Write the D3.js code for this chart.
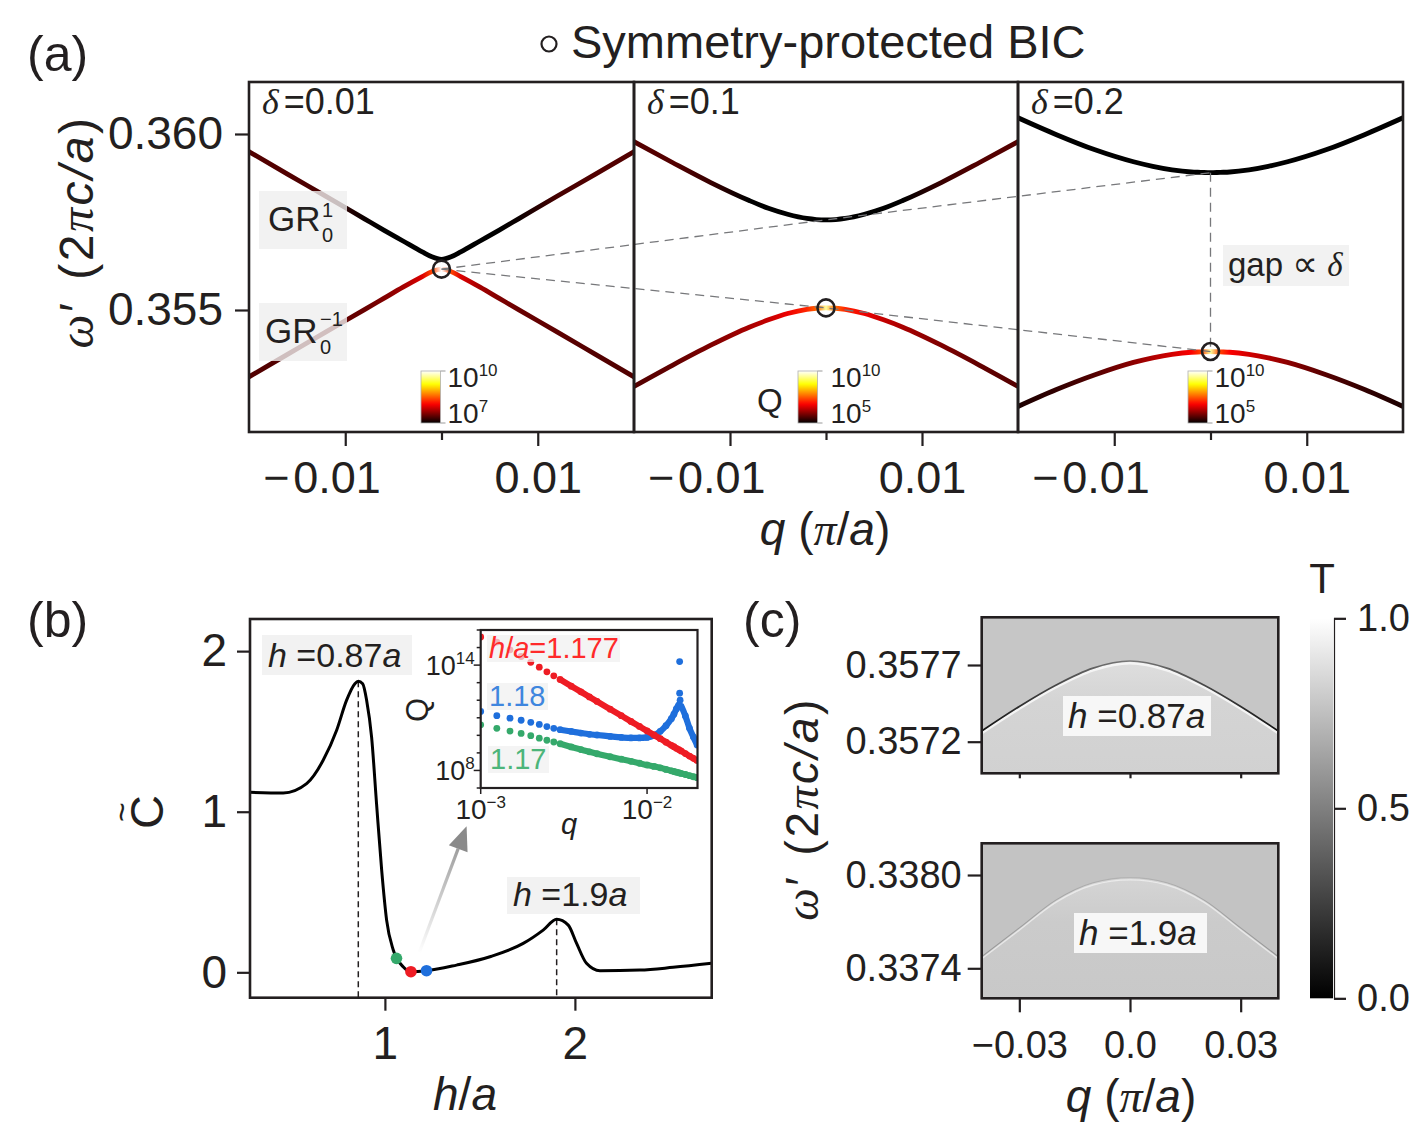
<!DOCTYPE html>
<html><head><meta charset="utf-8">
<script src="https://cdn.jsdelivr.net/npm/d3@7/dist/d3.min.js"></script>
<style>html,body{margin:0;padding:0;background:#fff}svg{display:block}</style>
</head><body>
<script>
// ================= DATA =================
// (a) band dispersion: q (pi/a) and omega' (2pi c/a)
const qBand = [-0.02,-0.016,-0.012,-0.008,-0.006,-0.004,-0.002,-0.001,0,0.001,0.002,0.004,0.006,0.008,0.012,0.016,0.02];
const deltaLabels = ["0.01","0.1","0.2"];
const upperD001 = [0.35950,0.35886,0.35823,0.35759,0.35727,0.35696,0.35665,0.35651,0.35644,0.35651,0.35665,0.35696,0.35727,0.35759,0.35823,0.35886,0.35950];
const lowerD001 = [0.35310,0.35374,0.35438,0.35501,0.35533,0.35565,0.35595,0.35609,0.35616,0.35609,0.35595,0.35565,0.35533,0.35501,0.35438,0.35374,0.35310];
const upperD01  = [0.35978,0.35919,0.35862,0.35811,0.35789,0.35772,0.35760,0.35757,0.35756,0.35757,0.35760,0.35772,0.35789,0.35811,0.35862,0.35919,0.35978];
const lowerD01  = [0.35283,0.35343,0.35400,0.35451,0.35472,0.35490,0.35502,0.35505,0.35506,0.35505,0.35502,0.35490,0.35472,0.35451,0.35400,0.35343,0.35283];
const upperD02  = [0.36046,0.35998,0.35955,0.35921,0.35908,0.35898,0.35892,0.35891,0.35890,0.35891,0.35892,0.35898,0.35908,0.35921,0.35955,0.35998,0.36046];
const lowerD02  = [0.35226,0.35274,0.35316,0.35351,0.35364,0.35374,0.35380,0.35381,0.35382,0.35381,0.35380,0.35374,0.35364,0.35351,0.35316,0.35274,0.35226];
// log10(Q) along each band
const logQUpperD001 = [7.35,7.35,7.3,7.05,7.0,7.0,7.0,7.0,7.0,7.0,7.0,7.0,7.0,7.05,7.3,7.35,7.35];
const logQLowerD001 = [7.35,7.35,7.4,7.45,7.55,7.7,7.95,8.4,10,8.4,7.95,7.7,7.55,7.45,7.4,7.35,7.35];
const logQUpperD01  = [5.6,5.6,5.4,5.0,5.0,5.0,5.0,5.0,5.0,5.0,5.0,5.0,5.0,5.0,5.4,5.6,5.6];
const logQLowerD01  = [5.6,5.7,5.9,6.2,6.4,6.7,7.1,7.6,9.5,7.6,7.1,6.7,6.4,6.2,5.9,5.7,5.6];
const logQUpperD02  = [5.0,5.0,5.0,5.0,5.0,5.0,5.0,5.0,5.0,5.0,5.0,5.0,5.0,5.0,5.0,5.0,5.0];
const logQLowerD02  = [5.2,5.35,5.6,6.0,6.25,6.5,6.8,7.3,9.5,7.3,6.8,6.5,6.25,6.0,5.6,5.35,5.2];
const colorbarRanges = [[7,10],[5,10],[5,10]];
const aXTicks = [-0.01,0.01];
const aYTicks = [0.355,0.360];

// (b) C-tilde versus h/a
const hOverA = [0.289,0.465,0.588,0.675,0.746,0.798,0.842,0.860,0.883,0.904,0.930,0.956,0.983,1.009,1.044,1.096,1.137,1.219,1.377,1.553,1.728,1.833,1.904,1.965,2.009,2.061,2.132,2.342,2.517,2.72];
const cTilde = [1.121,1.117,1.175,1.320,1.507,1.693,1.797,1.812,1.797,1.693,1.465,1.051,0.636,0.325,0.139,0.035,0.004,0.010,0.045,0.097,0.180,0.263,0.331,0.294,0.180,0.056,0.010,0.014,0.031,0.056];
const peakH = [0.86,1.904];
const peakLabels = ["0.87","1.9"];
const dotH = [1.061,1.137,1.219];
const dotC = [0.087,0.004,0.010];
const dotColors = ["#35a96b","#ee1c24","#1f6fdc"];
const bXTicks = [1,2];
const bYTicks = [0,1,2];
// (b) inset: Q versus q
const qInset = [0.001,0.00125,0.0015,0.00175,0.002,0.00225,0.0025,0.00275,0.003,0.0035,0.004,0.0045,0.005,0.006,0.007,0.008,0.009,0.010,0.011,0.012,0.013,0.014,0.0145,0.015,0.0155,0.016,0.017,0.018,0.019,0.020];
const logQ1177 = [15.6,15.31,14.87,14.49,14.16,13.88,13.62,13.39,13.18,12.80,12.48,12.19,11.93,11.49,11.12,10.79,10.51,10.25,10.02,9.81,9.61,9.43,9.35,9.26,9.19,9.11,8.96,8.82,8.69,8.56];
const logQ118  = [11.36,11.12,10.98,10.86,10.74,10.62,10.50,10.40,10.32,10.22,10.13,10.06,10.02,9.94,9.88,9.85,9.85,9.88,10.0,10.23,10.55,10.95,11.2,11.5,11.72,11.65,11.1,10.4,9.9,9.45];
const logQ117  = [10.60,10.40,10.24,10.11,9.98,9.84,9.72,9.62,9.52,9.34,9.19,9.06,8.95,8.78,8.64,8.52,8.41,8.31,8.23,8.15,8.06,7.98,7.94,7.90,7.87,7.83,7.77,7.70,7.64,7.59];
const spikeQ118 = [0.0157,0.0157,0.0158];
const spikeLogQ118 = [14.2,12.4,12.0];
const insetLabels = ["1.177","1.18","1.17"];

// (c) transmission maps: resonance curve
const qMap = [-0.0402,-0.03,-0.02,-0.01,0,0.01,0.02,0.03,0.0402];
const wMap087 = [0.35727,0.35743,0.35757,0.35768,0.357726,0.35768,0.35757,0.35743,0.35727];
const wMap19  = [0.337475,0.33766,0.33784,0.33795,0.337983,0.33795,0.33784,0.33766,0.337475];
const tBackground = [0.775,0.765];
const tBelow = [0.83,0.795];
const cXTicks = [-0.03,0,0.03];
const cYTicksTop = [0.3572,0.3577];
const cYTicksBot = [0.3374,0.3380];
const tTicks = [0,0.5,1];

// ================= DRAW =================
const W=1425,H=1140;
const SANS="'Liberation Sans', Arial, Helvetica, sans-serif";
const SERIF="'Liberation Serif','DejaVu Serif','Times New Roman',serif";
const INK="#231f20";
const svg=d3.select("body").append("svg").attr("width",W).attr("height",H).style("font-family",SANS);
const defs=svg.append("defs");

function hot(t){t=Math.max(0,Math.min(1,t));const r=Math.min(1,t/0.365),g=Math.max(0,Math.min(1,(t-0.365)/0.381)),b=Math.max(0,Math.min(1,(t-0.746)/0.254));return d3.rgb(r*255,g*255,b*255).formatHex();}
function rich(g,x,y,parts,o={}){
  const t=g.append("text").attr("x",x).attr("y",y).attr("font-size",o.size||40).attr("fill",o.fill||INK).attr("text-anchor",o.anchor||"start");
  if(o.transform)t.attr("transform",o.transform);
  if(o.ls)t.attr("letter-spacing",o.ls);
  parts.forEach(p=>{const s=t.append("tspan").text(p.t);
    if(p.i)s.attr("font-style","italic");
    if(p.serif)s.attr("font-family",SERIF);
    if(p.fam)s.attr("font-family",p.fam);
    if(p.size)s.attr("font-size",p.size);
    if(p.dy!=null)s.attr("dy",p.dy);
    if(p.dx!=null)s.attr("dx",p.dx);});
  return t;
}
function styleAxis(g,size){
  g.select(".domain").remove();
  g.selectAll(".tick line").attr("stroke",INK).attr("stroke-width",2.2);
  g.selectAll(".tick text").attr("fill",INK).attr("font-size",size).attr("font-family",SANS);
}

// ---------- Panel (a) ----------
rich(svg,27,71,[{t:"(a)"}],{size:50});
svg.append("circle").attr("cx",549).attr("cy",44).attr("r",7.5).attr("fill","none").attr("stroke",INK).attr("stroke-width",2.2);
rich(svg,571,58,[{t:"Symmetry-protected BIC"}],{size:47});

const aTop=82,aBot=432;
const aX=[[249,634],[634,1018],[1018,1403]];
const yA=d3.scaleLinear().domain([0.351534,0.361477]).range([aBot,aTop]);
const bands=[
  {up:upperD001,lo:lowerD001,qu:logQUpperD001,ql:logQLowerD001},
  {up:upperD01,lo:lowerD01,qu:logQUpperD01,ql:logQLowerD01},
  {up:upperD02,lo:lowerD02,qu:logQUpperD02,ql:logQLowerD02}];
const aScales=[];
bands.forEach((b,i)=>{
  const x=d3.scaleLinear().domain([-0.02,0.02]).range(aX[i]);
  aScales.push(x);
  const cr=colorbarRanges[i];
  const clipId="clipA"+i;
  defs.append("clipPath").attr("id",clipId).append("rect").attr("x",aX[i][0]).attr("y",aTop).attr("width",aX[i][1]-aX[i][0]).attr("height",aBot-aTop);
  const g=svg.append("g").attr("clip-path",`url(#${clipId})`);
  [["up","qu"],["lo","ql"]].forEach(([k,qk])=>{
    const gid=`gradA${i}${k}`;
    const grad=defs.append("linearGradient").attr("id",gid).attr("gradientUnits","userSpaceOnUse")
      .attr("x1",aX[i][0]).attr("x2",aX[i][1]).attr("y1",0).attr("y2",0);
    qBand.forEach((q,j)=>grad.append("stop").attr("offset",(x(q)-aX[i][0])/(aX[i][1]-aX[i][0]))
      .attr("stop-color",hot((b[qk][j]-cr[0])/(cr[1]-cr[0]))));
    g.append("path").datum(qBand.map((q,j)=>[q,b[k][j]]))
      .attr("d",d3.line().x(d=>x(d[0])).y(d=>yA(d[1])).curve(d3.curveMonotoneX))
      .attr("fill","none").attr("stroke",`url(#${gid})`).attr("stroke-width",4.8);
  });
});
// dashed guide lines
const idx0=qBand.indexOf(0);
const dashG=svg.append("g").attr("fill","none").attr("stroke","#77787b").attr("stroke-width",1.3).attr("stroke-dasharray","9,6");
const lineA=d3.line().x(d=>d[0]).y(d=>d[1]);
dashG.append("path").attr("d",lineA([[aScales[0](0),yA(lowerD001[idx0])],[aScales[1](0),yA(upperD01[idx0])],[aScales[2](0),yA(upperD02[idx0])]]));
dashG.append("path").attr("d",lineA([[aScales[0](0),yA(lowerD001[idx0])],[aScales[1](0),yA(lowerD01[idx0])],[aScales[2](0),yA(lowerD02[idx0])]]));
dashG.append("path").attr("d",lineA([[aScales[2](0),yA(upperD02[idx0])],[aScales[2](0),yA(lowerD02[idx0])]]));
// BIC circles
bands.forEach((b,i)=>{
  svg.append("circle").attr("cx",aScales[i](0)).attr("cy",yA(b.lo[idx0])).attr("r",8.5)
    .attr("fill","none").attr("stroke",INK).attr("stroke-width",2.6);
});
// GR labels
svg.append("rect").attr("x",259).attr("y",191).attr("width",88).attr("height",58).attr("fill","#efefef").attr("opacity",0.8);
rich(svg,268,231,[{t:"GR"}],{size:35});
rich(svg,322,217,[{t:"1"}],{size:20});
rich(svg,322,242,[{t:"0"}],{size:20});
svg.append("rect").attr("x",259).attr("y",303).attr("width",88).attr("height",58).attr("fill","#efefef").attr("opacity",0.8);
rich(svg,265,343,[{t:"GR"}],{size:35});
rich(svg,320,326,[{t:"−1"}],{size:20});
rich(svg,320,354,[{t:"0"}],{size:20});
// frames, axes, labels
bands.forEach((b,i)=>{
  const x=aScales[i];
  svg.append("rect").attr("x",aX[i][0]).attr("y",aTop).attr("width",aX[i][1]-aX[i][0]).attr("height",aBot-aTop)
    .attr("fill","none").attr("stroke",INK).attr("stroke-width",2.6);
  const ax=svg.append("g").attr("transform",`translate(0,${aBot})`)
    .call(d3.axisBottom(x).tickValues(aXTicks).tickSize(14).tickPadding(15).tickFormat(d=>d<0?"−\u200A"+d3.format(".2f")(-d):d3.format(".2f")(d)));
  styleAxis(ax,45);
  ax.selectAll(".tick text").filter(d=>d<0).attr("text-anchor","end").attr("x",35);
  const ax0=svg.append("g").attr("transform",`translate(0,${aBot})`)
    .call(d3.axisBottom(x).tickValues([0]).tickSize(8).tickFormat(""));
  styleAxis(ax0,45);
  rich(svg,aX[i][0]+13,114,[{t:"δ",serif:true,i:true},{t:"=",dx:5},{t:deltaLabels[i]}],{size:36});
  // colorbar
  const cbx=[421,798,1188][i], cbw=19.5, cbt=371, cbb=423;
  const gid="cbA"+i;
  const grad=defs.append("linearGradient").attr("id",gid).attr("x1",0).attr("y1",0).attr("x2",0).attr("y2",1);
  d3.range(0,1.0001,0.05).forEach(o=>grad.append("stop").attr("offset",o).attr("stop-color",hot(1-o)));
  svg.append("rect").attr("x",cbx).attr("y",cbt).attr("width",cbw).attr("height",cbb-cbt).attr("fill",`url(#${gid})`).attr("stroke","#b0b0b0").attr("stroke-width",0.8);
  [cbt,cbb].forEach(yy=>svg.append("line").attr("x1",cbx+cbw).attr("x2",cbx+cbw+5).attr("y1",yy).attr("y2",yy).attr("stroke","#999").attr("stroke-width",1));
  const lx=cbx+cbw+(i===1?13:7);
  rich(svg,lx,cbt+16,[{t:"10"},{t:String(colorbarRanges[i][1]),size:17,dy:-11}],{size:28});
  rich(svg,lx,cbb,[{t:"10"},{t:String(colorbarRanges[i][0]),size:17,dy:-11}],{size:28});
});
rich(svg,757,412,[{t:"Q"}],{size:33});
const ayAx=svg.append("g").attr("transform",`translate(${aX[0][0]},0)`)
  .call(d3.axisLeft(yA).tickValues(aYTicks).tickSize(14).tickPadding(12).tickFormat(d3.format(".3f")));
styleAxis(ayAx,46);
// gap label
svg.append("rect").attr("x",1223).attr("y",245).attr("width",126).attr("height",41).attr("fill","#f2f2f2");
rich(svg,1228,276,[{t:"gap "},{t:"∝",fam:"'DejaVu Sans'",size:36},{t:" "},{t:"δ",serif:true,i:true}],{size:33});
// axis titles (a)
rich(svg,825,545,[{t:"q",i:true},{t:" ("},{t:"π",serif:true,i:true},{t:"/"},{t:"a",i:true},{t:")"}],{size:46,anchor:"middle"});
rich(svg,0,0,[{t:"ω",serif:true,i:true},{t:"′"},{t:" (",dx:5},{t:"2"},{t:"π",serif:true,i:true},{t:"c/a",i:true},{t:")"}],{size:48,anchor:"middle",ls:2.5,transform:"translate(93,232) rotate(-90)"});

// ---------- Panel (b) ----------
rich(svg,27,637,[{t:"(b)"}],{size:50});
const bL=250,bR=711.7,bT=619,bB=997.7;
const xB=d3.scaleLinear().domain([0.29,2.72]).range([bL,bR]);
const yB=d3.scaleLinear().domain([-0.158,2.2]).range([bB,bT]);
defs.append("clipPath").attr("id","clipB").append("rect").attr("x",bL).attr("y",bT).attr("width",bR-bL).attr("height",bB-bT);
const gB=svg.append("g").attr("clip-path","url(#clipB)");
peakH.forEach((h,i)=>{
  const c=cTilde[hOverA.indexOf(h)];
  gB.append("line").attr("x1",xB(h)).attr("x2",xB(h)).attr("y1",yB(c)).attr("y2",bB)
    .attr("stroke",INK).attr("stroke-width",1.5).attr("stroke-dasharray","6,4");
});
gB.append("path").datum(hOverA.map((h,i)=>[h,cTilde[i]]))
  .attr("d",d3.line().x(d=>xB(d[0])).y(d=>yB(d[1])).curve(d3.curveMonotoneX))
  .attr("fill","none").attr("stroke","#000").attr("stroke-width",3);
// arrow
const ag=defs.append("linearGradient").attr("id","arrowGrad").attr("gradientUnits","userSpaceOnUse")
  .attr("x1",xB(1.18)).attr("y1",yB(0.12)).attr("x2",xB(1.43)).attr("y2",yB(0.91));
ag.append("stop").attr("offset",0).attr("stop-color","#ffffff");
ag.append("stop").attr("offset",1).attr("stop-color","#8a8a8a");
{
  const x1=xB(1.18),y1=yB(0.12),x2=xB(1.43),y2=yB(0.91);
  const ang=Math.atan2(y2-y1,x2-x1), L=24, Wd=10;
  const bx=x2-L*Math.cos(ang), by=y2-L*Math.sin(ang);
  gB.append("line").attr("x1",x1).attr("y1",y1).attr("x2",bx).attr("y2",by).attr("stroke","url(#arrowGrad)").attr("stroke-width",3.2);
  gB.append("path").attr("d",`M${x2},${y2}L${bx+Wd*Math.sin(ang)},${by-Wd*Math.cos(ang)}L${bx-Wd*Math.sin(ang)},${by+Wd*Math.cos(ang)}Z`).attr("fill","#8a8a8a");
}
dotH.forEach((h,i)=>gB.append("circle").attr("cx",xB(h)).attr("cy",yB(dotC[i])).attr("r",5.8).attr("fill",dotColors[i]));
// peak labels
svg.append("rect").attr("x",262).attr("y",635).attr("width",150).attr("height",40).attr("fill","#f2f2f2");
rich(svg,268,667,[{t:"h",i:true},{t:" =0.87"},{t:"a",i:true}],{size:34});
svg.append("rect").attr("x",507).attr("y",877).attr("width",133).attr("height",37).attr("fill","#f2f2f2");
rich(svg,513,906,[{t:"h",i:true},{t:" =1.9"},{t:"a",i:true}],{size:34});
svg.append("rect").attr("x",bL).attr("y",bT).attr("width",bR-bL).attr("height",bB-bT).attr("fill","none").attr("stroke",INK).attr("stroke-width",2.6);
const bxAx=svg.append("g").attr("transform",`translate(0,${bB})`).call(d3.axisBottom(xB).tickValues(bXTicks).tickSize(13).tickPadding(16).tickFormat(d3.format("d")));
styleAxis(bxAx,46);
const byAx=svg.append("g").attr("transform",`translate(${bL},0)`).call(d3.axisLeft(yB).tickValues(bYTicks).tickSize(13).tickPadding(10).tickFormat(d3.format("d")));
styleAxis(byAx,46);
rich(svg,465,1110,[{t:"h",i:true},{t:"/"},{t:"a",i:true}],{size:46,anchor:"middle"});
{
  const g=svg.append("g").attr("transform","translate(163,812) rotate(-90)");
  g.append("text").attr("x",0).attr("y",0).attr("text-anchor","middle").attr("font-size",47).attr("fill",INK).text("C");
  g.append("text").attr("x",0).attr("y",-30).attr("text-anchor","middle").attr("font-size",34).attr("fill",INK).text("~");
}

// inset
const iL=480.7,iR=697.5,iT=630,iB=788;
const xI=d3.scaleLog().domain([1e-3,0.0201]).range([iL,iR]);
const yI=d3.scaleLog().domain([1e7,1e16]).range([iB,iT]);
svg.append("rect").attr("x",iL).attr("y",iT).attr("width",iR-iL).attr("height",iB-iT).attr("fill","#fff");
defs.append("clipPath").attr("id","clipI").append("rect").attr("x",iL).attr("y",iT).attr("width",iR-iL).attr("height",iB-iT);
const gI=svg.append("g").attr("clip-path","url(#clipI)");
const series=[{v:logQ117,c:"#35a96b"},{v:logQ118,c:"#1f6fdc"},{v:logQ1177,c:"#ee1c24"}];
series.forEach(s=>{
  const pts=qInset.map((q,i)=>[q,Math.pow(10,s.v[i])]);
  gI.append("path").datum(pts.filter(d=>d[0]>=0.003))
    .attr("d",d3.line().x(d=>xI(d[0])).y(d=>yI(d[1])).curve(d3.curveMonotoneX))
    .attr("fill","none").attr("stroke",s.c).attr("stroke-width",6.2);
  gI.selectAll(null).data(pts).enter().append("circle").attr("cx",d=>xI(d[0])).attr("cy",d=>yI(d[1])).attr("r",3.4).attr("fill",s.c);
});
spikeQ118.forEach((q,i)=>gI.append("circle").attr("cx",xI(q)).attr("cy",yI(Math.pow(10,spikeLogQ118[i]))).attr("r",3.4).attr("fill","#1f6fdc"));
[[487,635,133,27],[487,683,61,27],[488,746,61,27]].forEach(r=>{
  svg.append("rect").attr("x",r[0]).attr("y",r[1]).attr("width",r[2]).attr("height",r[3]).attr("fill","#f0f0f0").attr("opacity",0.72);
});
rich(svg,489,658,[{t:"h",i:true},{t:"/"},{t:"a",i:true},{t:"="+insetLabels[0]}],{size:29,fill:"#ff2a2a"});
rich(svg,489,706,[{t:insetLabels[1]}],{size:29,fill:"#3f86de"});
rich(svg,490,769,[{t:insetLabels[2]}],{size:29,fill:"#4cb57a"});
svg.append("rect").attr("x",iL).attr("y",iT).attr("width",iR-iL).attr("height",iB-iT).attr("fill","none").attr("stroke",INK).attr("stroke-width",2.2);
d3.range(7,17).forEach(e=>{
  const yy=yI(Math.pow(10,e)); const major=(e===8||e===14);
  svg.append("line").attr("x1",iL).attr("x2",iL-(major?7:4)).attr("y1",yy).attr("y2",yy).attr("stroke",INK).attr("stroke-width",1.5);
});
[8,14].forEach(e=>{
  rich(svg,iL-6,yI(Math.pow(10,e))+10,[{t:"10"},{t:String(e),size:17,dy:-11}],{size:27,anchor:"end"});
});
[1e-3,1e-2].forEach((q,i)=>{
  svg.append("line").attr("x1",xI(q)).attr("x2",xI(q)).attr("y1",iB).attr("y2",iB+6).attr("stroke",INK).attr("stroke-width",1.5);
  rich(svg,xI(q),819,[{t:"10"},{t:i===0?"−3":"−2",size:17,dy:-11}],{size:28,anchor:"middle"});
});
rich(svg,569,834,[{t:"q",i:true}],{size:29,anchor:"middle"});
rich(svg,0,0,[{t:"Q"}],{size:31,anchor:"middle",transform:"translate(428,710) rotate(-90)"});

// ---------- Panel (c) ----------
rich(svg,743,637,[{t:"(c)"}],{size:50});
const cL=981.7,cR=1278.3;
const xC=d3.scaleLinear().domain([-0.0402,0.0402]).range([cL,cR]);
const tGray=d3.scaleLinear().domain([0,1]).range(["#000000","#ffffff"]);
const maps=[
  {t:617.3,b:773.3,dom:[0.356994,0.358011],w:wMap087,yt:cYTicksTop,lab:"0.87",lineDark:["#151515","#7a7a7a"],lw:1.7,wl:[2.6,1]},
  {t:843.3,b:998.3,dom:[0.337207,0.338204],w:wMap19,yt:cYTicksBot,lab:"1.9",lineDark:["#959595","#b5b5b5"],lw:1.1,wl:[1.4,0.7]}];
maps.forEach((m,i)=>{
  const y=d3.scaleLinear().domain(m.dom).range([m.b,m.t]);
  const cid="clipC"+i;
  defs.append("clipPath").attr("id",cid).append("rect").attr("x",cL).attr("y",m.t).attr("width",cR-cL).attr("height",m.b-m.t);
  const g=svg.append("g").attr("clip-path",`url(#${cid})`);
  g.append("rect").attr("x",cL).attr("y",m.t).attr("width",cR-cL).attr("height",m.b-m.t).attr("fill",tGray(tBackground[i]));
  const pts=qMap.map((q,j)=>[q,m.w[j]]);
  const ag=defs.append("linearGradient").attr("id","areaC"+i).attr("x1",0).attr("y1",0).attr("x2",0).attr("y2",1);
  ag.append("stop").attr("offset",0).attr("stop-color",tGray(tBelow[i]+0.04));
  ag.append("stop").attr("offset",0.35).attr("stop-color",tGray(tBelow[i]));
  ag.append("stop").attr("offset",1).attr("stop-color",tGray(tBelow[i]-0.01));
  g.append("path").datum(pts).attr("d",d3.area().x(d=>xC(d[0])).y0(m.b+5).y1(d=>y(d[1])).curve(d3.curveMonotoneX)).attr("fill",`url(#areaC${i})`);
  const ln=d3.line().x(d=>xC(d[0])).y(d=>y(d[1])).curve(d3.curveMonotoneX);
  g.append("path").datum(pts).attr("d",ln).attr("fill","none").attr("stroke","#f4f4f4").attr("stroke-width",m.wl[0]).attr("opacity",m.wl[1]).attr("transform","translate(0,2.2)");
  const lg=defs.append("linearGradient").attr("id","lineC"+i).attr("gradientUnits","userSpaceOnUse").attr("x1",cL).attr("x2",cR).attr("y1",0).attr("y2",0);
  lg.append("stop").attr("offset",0).attr("stop-color",m.lineDark[0]);
  lg.append("stop").attr("offset",0.5).attr("stop-color",m.lineDark[1]);
  lg.append("stop").attr("offset",1).attr("stop-color",m.lineDark[0]);
  g.append("path").datum(pts).attr("d",ln).attr("fill","none").attr("stroke",`url(#lineC${i})`).attr("stroke-width",m.lw);
  svg.append("rect").attr("x",cL).attr("y",m.t).attr("width",cR-cL).attr("height",m.b-m.t).attr("fill","none").attr("stroke",INK).attr("stroke-width",2.6);
  const yax=svg.append("g").attr("transform",`translate(${cL},0)`).call(d3.axisLeft(y).tickValues(m.yt).tickSize(14).tickPadding(6).tickFormat(d3.format(".4f")));
  styleAxis(yax,38);
  const xax=svg.append("g").attr("transform",`translate(0,${m.b})`).call(d3.axisBottom(xC).tickValues(cXTicks).tickSize(i===0?5:14).tickPadding(19).tickFormat(i===0?"":(d=>d===0?"0.0":d3.format(".2f")(d))));
  styleAxis(xax,38);
  const bx=i===0?1063:1074, bw=i===0?148:133, by=i===0?696:913;
  svg.append("rect").attr("x",bx).attr("y",by).attr("width",bw).attr("height",40).attr("fill","#f7f7f7");
  rich(svg,bx+5,by+32,[{t:"h",i:true},{t:" ="+m.lab},{t:"a",i:true}],{size:35});
});
rich(svg,1131,1112,[{t:"q",i:true},{t:" ("},{t:"π",serif:true,i:true},{t:"/"},{t:"a",i:true},{t:")"}],{size:46,anchor:"middle"});
rich(svg,0,0,[{t:"ω",serif:true,i:true},{t:"′"},{t:" (",dx:4},{t:"2"},{t:"π",serif:true,i:true},{t:"c/a",i:true},{t:")"}],{size:46,anchor:"middle",ls:2.5,transform:"translate(818,809) rotate(-90)"});
// colorbar (c)
{
  const x0=1310,x1=1333,t0=618.3,b0=998.3;
  const g=defs.append("linearGradient").attr("id","cbC").attr("x1",0).attr("y1",1).attr("x2",0).attr("y2",0);
  g.append("stop").attr("offset",0).attr("stop-color",tGray(0));
  g.append("stop").attr("offset",1).attr("stop-color",tGray(1));
  svg.append("rect").attr("x",x0).attr("y",t0).attr("width",x1-x0).attr("height",b0-t0).attr("fill","url(#cbC)");
  const ty=d3.scaleLinear().domain([0,1]).range([b0,t0]);
  const ax=svg.append("g").attr("transform",`translate(${x1+1},0)`).call(d3.axisRight(ty).tickValues(tTicks).tickSize(12).tickPadding(11).tickFormat(d3.format(".1f")));
  ax.select(".domain").attr("stroke",INK).attr("stroke-width",1.2);
  ax.selectAll(".tick line").attr("stroke",INK).attr("stroke-width",2.2);
  ax.selectAll(".tick text").attr("fill",INK).attr("font-size",38).attr("font-family",SANS);
  rich(svg,1322,593,[{t:"T"}],{size:42,anchor:"middle"});
}
</script>
</body></html>
